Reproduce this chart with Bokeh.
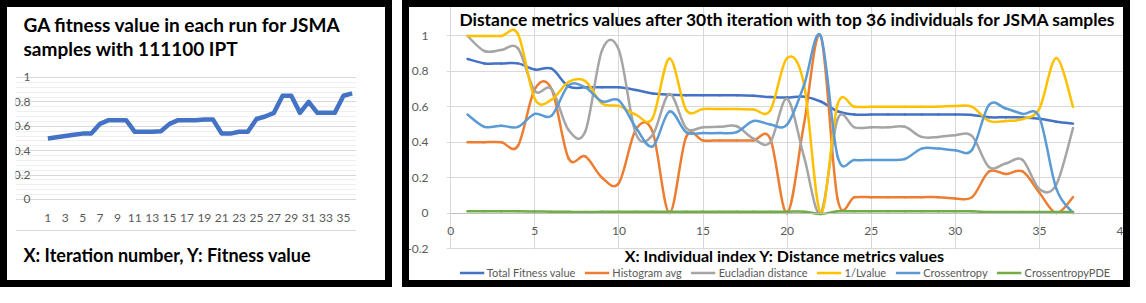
import numpy as np
from bokeh.plotting import figure
from bokeh.models import (Range1d, FixedTicker, PrintfTickFormatter, Label, BoxAnnotation,
                          Legend, LegendItem, Grid, ColumnDataSource)
from bokeh.layouts import row
from bokeh.embed import file_html
from bokeh.resources import INLINE

FONT = "Lato"
TICK_COLOR = "#595959"
GRID = "#d9d9d9"

# ---------------- data: left chart ----------------
ga_title_1 = "GA fitness value in each run for JSMA"
ga_title_2 = "samples with 111100 IPT"
ga_xlabel = "X: Iteration number, Y: Fitness value"
ga_iteration = list(range(1, 37))
ga_fitness = [0.50, 0.51, 0.52, 0.53, 0.54, 0.54, 0.62, 0.65, 0.65, 0.65,
              0.555, 0.555, 0.555, 0.56, 0.62, 0.65, 0.65, 0.65, 0.655, 0.655,
              0.54, 0.54, 0.555, 0.555, 0.66, 0.68, 0.71, 0.85, 0.85, 0.71,
              0.80, 0.71, 0.71, 0.71, 0.85, 0.87]
ga_x_ticks = [1, 3, 5, 7, 9, 11, 13, 15, 17, 19, 21, 23, 25, 27, 29, 31, 33, 35]
ga_y_ticks = [0, 0.2, 0.4, 0.6, 0.8, 1.0]
ga_y_minor = [0.04, 0.08, 0.12, 0.16, 0.24, 0.28, 0.32, 0.36, 0.44, 0.48, 0.52, 0.56,
              0.64, 0.68, 0.72, 0.76, 0.84, 0.88, 0.92, 0.96]

# ---------------- data: right chart ----------------
dm_title = "Distance metrics values after 30th iteration with top 36 individuals for JSMA samples"
dm_xlabel = "X: Individual index Y: Distance metrics values"
individual = list(range(1, 38))
total_fitness = [0.87, 0.845, 0.845, 0.845, 0.81, 0.815, 0.715, 0.71, 0.71, 0.71,
                 0.695, 0.675, 0.668, 0.665, 0.665, 0.665, 0.665, 0.662, 0.655, 0.652,
                 0.657, 0.63, 0.575, 0.556, 0.556, 0.556, 0.556, 0.556, 0.556, 0.556,
                 0.554, 0.541, 0.541, 0.54, 0.532, 0.516, 0.505]
histogram_avg = [0.40, 0.40, 0.40, 0.38, 0.70, 0.70, 0.31, 0.32, 0.20, 0.17,
                 0.47, 0.46, 0.0, 0.43, 0.41, 0.41, 0.41, 0.41, 0.42, 0.0,
                 0.50, 1.0, 0.08, 0.09, 0.09, 0.09, 0.09, 0.09, 0.09, 0.083,
                 0.09, 0.235, 0.22, 0.235, 0.115, 0.0, 0.09]
eucladian_distance = [1.0, 0.915, 0.92, 0.93, 0.69, 0.70, 0.47, 0.46, 0.92, 0.92,
                      0.45, 0.44, 0.672, 0.48, 0.485, 0.487, 0.49, 0.42, 0.40, 0.645,
                      0.32, 0.0, 0.53, 0.484, 0.484, 0.484, 0.487, 0.43, 0.43, 0.44,
                      0.434, 0.26, 0.28, 0.30, 0.135, 0.16, 0.48]
inv_lvalue = [1.0, 1.0, 1.0, 1.01, 0.645, 0.64, 0.74, 0.745, 0.618, 0.605,
              0.556, 0.535, 0.873, 0.582, 0.588, 0.588, 0.588, 0.585, 0.58, 0.875,
              0.73, 0.0, 0.613, 0.60, 0.60, 0.60, 0.60, 0.60, 0.60, 0.605,
              0.60, 0.52, 0.52, 0.53, 0.59, 0.875, 0.60]
crossentropy = [0.556, 0.487, 0.493, 0.487, 0.56, 0.55, 0.72, 0.71, 0.63, 0.636,
                0.484, 0.376, 0.573, 0.457, 0.452, 0.452, 0.457, 0.52, 0.50, 0.50,
                0.72, 1.0, 0.32, 0.30, 0.30, 0.30, 0.305, 0.364, 0.364, 0.355,
                0.358, 0.61, 0.59, 0.56, 0.54, 0.14, 0.0]
crossentropy_pde = [0.01, 0.01, 0.01, 0.01, 0.009, 0.008, 0.007, 0.006, 0.007, 0.008,
                    0.008, 0.008, 0.008, 0.008, 0.008, 0.008, 0.008, 0.008, 0.008, 0.008,
                    0.008, -0.005, 0.01, 0.01, 0.01, 0.01, 0.01, 0.01, 0.01, 0.01,
                    0.01, 0.006, 0.006, 0.006, 0.006, 0.006, 0.006]
series_names = ["Total Fitness value", "Histogram avg", "Eucladian distance",
                "1/Lvalue", "Crossentropy", "CrossentropyPDE"]
series_values = [total_fitness, histogram_avg, eucladian_distance,
                 inv_lvalue, crossentropy, crossentropy_pde]
series_colors = ["#4472C4", "#ED7D31", "#A5A5A5", "#FFC000", "#5B9BD5", "#70AD47"]
dm_x_ticks = [0, 5, 10, 15, 20, 25, 30, 35, 40]
dm_y_grid = [-0.2, 0, 0.2, 0.4, 0.6, 0.8, 1.0, 1.2]
dm_y_labels = [-0.2, 0, 0.2, 0.4, 0.6, 0.8, 1.0]

# ---------------- layout constants ----------------
W1, W2, H = 392, 728, 287
GA_XR = (-2.72, 36.5)        # frame also holds the title / caption area
GA_YR = (-0.7213, 1.631)
GA_SEP = -0.254              # light separator line above the caption
DM_XR = (-0.25, 40)
DM_YR = (-0.42, 1.2)
DM_CAPTION_TOP = -0.205      # caption / legend strip below the plot area

BORDER_CSS = (":host { position: relative; } "
              ":host::after { content: ''; position: absolute; left: 0; top: 0; right: 0; bottom: 0; "
              "border: 7px solid #000; box-sizing: border-box; pointer-events: none; z-index: 10; }")


def style_axis(ax, standoff):
    ax.major_label_text_color = TICK_COLOR
    ax.major_label_text_font = FONT
    ax.major_label_text_font_size = "12px"
    ax.major_label_standoff = standoff
    ax.major_tick_line_color = None
    ax.minor_tick_line_color = None


def bold_label(x, y, text, size, align="left"):
    return Label(x=x, y=y, text=text, text_font=FONT, text_font_size=size,
                 text_font_style="bold", text_baseline="middle", text_align=align,
                 text_color="black")


# ================= left chart =================
p1 = figure(width=W1, height=H, x_range=Range1d(*GA_XR), y_range=Range1d(*GA_YR),
            output_backend="svg", toolbar_location=None,
            min_border_left=15, min_border_right=36, min_border_top=0, min_border_bottom=0,
            outline_line_color=None)
p1.stylesheets = [BORDER_CSS]
p1.line(ga_iteration, ga_fitness, line_color="#4472C4", line_width=4.5, line_join="round")
p1.xgrid.visible = False
yg = p1.ygrid[0]
yg.ticker = FixedTicker(ticks=ga_y_ticks, minor_ticks=ga_y_minor)
yg.grid_line_color = GRID
yg.minor_grid_line_color = "#efefef"
p1.add_layout(Grid(dimension=1, ticker=FixedTicker(ticks=[GA_SEP]), grid_line_color=GRID))

p1.yaxis.ticker = FixedTicker(ticks=ga_y_ticks)
p1.yaxis.formatter = PrintfTickFormatter(format="%g")
p1.yaxis.axis_line_color = None
p1.yaxis.fixed_location = 0.5
style_axis(p1.yaxis[0], 7)
p1.xaxis.ticker = FixedTicker(ticks=ga_x_ticks)
p1.xaxis.formatter = PrintfTickFormatter(format="%d")
p1.xaxis.axis_line_color = None
p1.xaxis.fixed_location = 0
style_axis(p1.xaxis[0], 9)

p1.add_layout(bold_label(-1.80, 1.434, ga_title_1, "19px"))
p1.add_layout(bold_label(-1.80, 1.238, ga_title_2, "19px"))
p1.add_layout(bold_label(-1.80, -0.451, ga_xlabel, "18px"))

# ================= right chart =================
p2 = figure(width=W2, height=H, x_range=Range1d(*DM_XR), y_range=Range1d(*DM_YR),
            output_backend="svg", toolbar_location=None,
            min_border_left=44, min_border_right=7, min_border_top=0, min_border_bottom=0,
            outline_line_color=None)
p2.stylesheets = [BORDER_CSS]
p2.xgrid.ticker = FixedTicker(ticks=dm_x_ticks)
p2.ygrid.ticker = FixedTicker(ticks=dm_y_grid)
p2.xgrid.grid_line_color = GRID
p2.ygrid.grid_line_color = GRID
p2.yaxis.ticker = FixedTicker(ticks=dm_y_labels)
p2.yaxis.formatter = PrintfTickFormatter(format="%g")
p2.yaxis.axis_line_color = None
style_axis(p2.yaxis[0], 12)
p2.xaxis.ticker = FixedTicker(ticks=dm_x_ticks)
p2.xaxis.formatter = PrintfTickFormatter(format="%d")
p2.xaxis.axis_line_color = "#bfbfbf"
p2.xaxis.bounds = (0, 40)
p2.xaxis.fixed_location = 0
style_axis(p2.xaxis[0], 8)


def smooth_segments(xs, ys):
    xs = np.asarray(xs, float)
    ys = np.asarray(ys, float)
    n = len(xs)
    xp = np.concatenate([[xs[0]], xs, [xs[-1]]])
    yp = np.concatenate([[ys[0]], ys, [ys[-1]]])
    i = np.arange(n - 1)
    return dict(
        x0=xs[:-1], y0=ys[:-1], x1=xs[1:], y1=ys[1:],
        cx0=xp[i + 1] + (xp[i + 2] - xp[i]) / 6, cy0=yp[i + 1] + (yp[i + 2] - yp[i]) / 6,
        cx1=xp[i + 2] - (xp[i + 3] - xp[i + 1]) / 6, cy1=yp[i + 2] - (yp[i + 3] - yp[i + 1]) / 6,
    )


legend_items = []
for name, vals, color in zip(series_names, series_values, series_colors):
    src = ColumnDataSource(smooth_segments(individual, vals))
    p2.bezier(x0="x0", y0="y0", x1="x1", y1="y1", cx0="cx0", cy0="cy0", cx1="cx1", cy1="cy1",
              source=src, line_color=color, line_width=2.5, line_cap="round")
    r = p2.line(x=[individual[0]], y=[vals[0]], line_color=color, line_width=2.5)
    legend_items.append(LegendItem(label=name, renderers=[r]))

# white strip below the plot area so the vertical grid lines stop at -0.2
p2.add_layout(BoxAnnotation(top=DM_CAPTION_TOP, fill_color="white", fill_alpha=1.0,
                            line_color=None))
p2.add_layout(bold_label(0.52, 1.093, dm_title, "17.4px"))
p2.add_layout(bold_label(19.875, -0.240, dm_xlabel, "16px", align="center"))
legend = Legend(items=legend_items, orientation="horizontal", location="bottom_center",
                label_text_font=FONT, label_text_font_size="11px", label_text_color=TICK_COLOR,
                label_height=13, glyph_width=25, glyph_height=13, label_standoff=3, spacing=9,
                padding=0, margin=8, border_line_color=None, background_fill_alpha=0)
p2.add_layout(legend)

layout = row(p1, p2, spacing=10)
open("out.html", "w").write(file_html(layout, INLINE))
